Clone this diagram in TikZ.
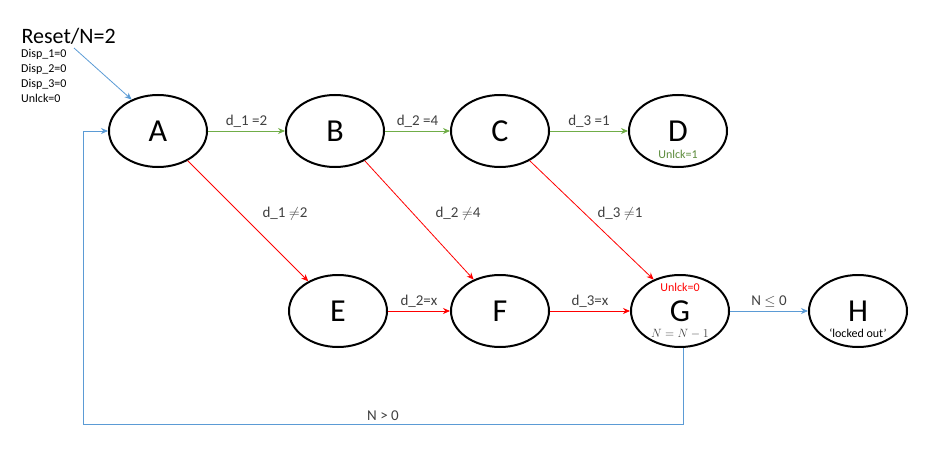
\documentclass[tikz,border=0pt]{standalone}
\usepackage{fontspec}
\setmainfont{Carlito}
\usetikzlibrary{arrows.meta,shapes.geometric}
\definecolor{gr}{RGB}{112,173,71}
\definecolor{bl}{RGB}{91,155,213}
\definecolor{lg}{RGB}{64,64,64}
\begin{document}
\begin{tikzpicture}[x=1pt,y=-1pt,
 st/.style={ellipse,draw,line width=2pt,minimum width=98pt,minimum height=72pt,font=\fontsize{32}{34}\selectfont,inner sep=0pt},
 ga/.style={draw=gr,-{Stealth[length=7pt,width=6pt]},thick},
 ra/.style={draw=red,-{Stealth[length=7pt,width=6pt]},thick},
 ba/.style={draw=bl,-{Stealth[length=7pt,width=6pt]},thick},
 lb/.style={font=\fontsize{15}{17}\selectfont,text=lg},
 sm/.style={font=\fontsize{12}{14}\selectfont}]
\useasboundingbox (0,0) rectangle (930,452);
\node[st] (A) at (158,131) {A};
\node[st] (B) at (335,131) {B};
\node[st] (C) at (500,131) {C};
\node[st] (D) at (678,131) {D};
\node[st] (E) at (338,311) {E};
\node[st] (F) at (500,311) {F};
\node[st] (G) at (680,311) {G};
\node[st] (H) at (858,311) {H};
\node[sm,text=gr!80!black] at (678,154) {Unlck=1};
\node[sm,text=red] at (680,287) {Unlck=0};
\node[sm,text=lg] at (680,334) {$N=N-1$};
\node[sm] at (858,333) {‘locked out’};
\node[anchor=west,font=\fontsize{22}{24}\selectfont] (R) at (18,36) {Reset/N=2};
\node[anchor=north west,sm,align=left,inner sep=0pt] (T) at (21,49) {Disp\_1=0\\[1pt]Disp\_2=0\\[1pt]Disp\_3=0\\[1pt]Unlck=0};
\coordinate (s) at (74,48);
\draw[ba] (s) -- (A.130);
\draw[ga] (A) -- node[lb,above]{d\_1 =2} (B);
\draw[ga] (B) -- node[lb,above]{d\_2 =4} (C);
\draw[ga] (C) -- node[lb,above]{d\_3 =1} (D);
\draw[ra] (A.-45) -- (E.135);
\node[lb] at (285,214) {d\_1 $\neq$2};
\draw[ra] (B.-45) -- (F.130);
\node[lb] at (458,214) {d\_2 $\neq$4};
\draw[ra] (C.-45) -- (G.130);
\node[lb] at (620,214) {d\_3 $\neq$1};
\draw[ra] (E) -- node[lb,above]{d\_2=x} (F);
\draw[ra] (F) -- node[lb,above]{d\_3=x} (G);
\draw[ba] (G) -- node[lb,above]{N $\leq$ 0} (H);
\draw[ba] (G.south -| 683,0) -- (683,424) -- node[lb,above]{N > 0} (83,424) -- (83,131) -- (A.west);
\end{tikzpicture}
\end{document}
